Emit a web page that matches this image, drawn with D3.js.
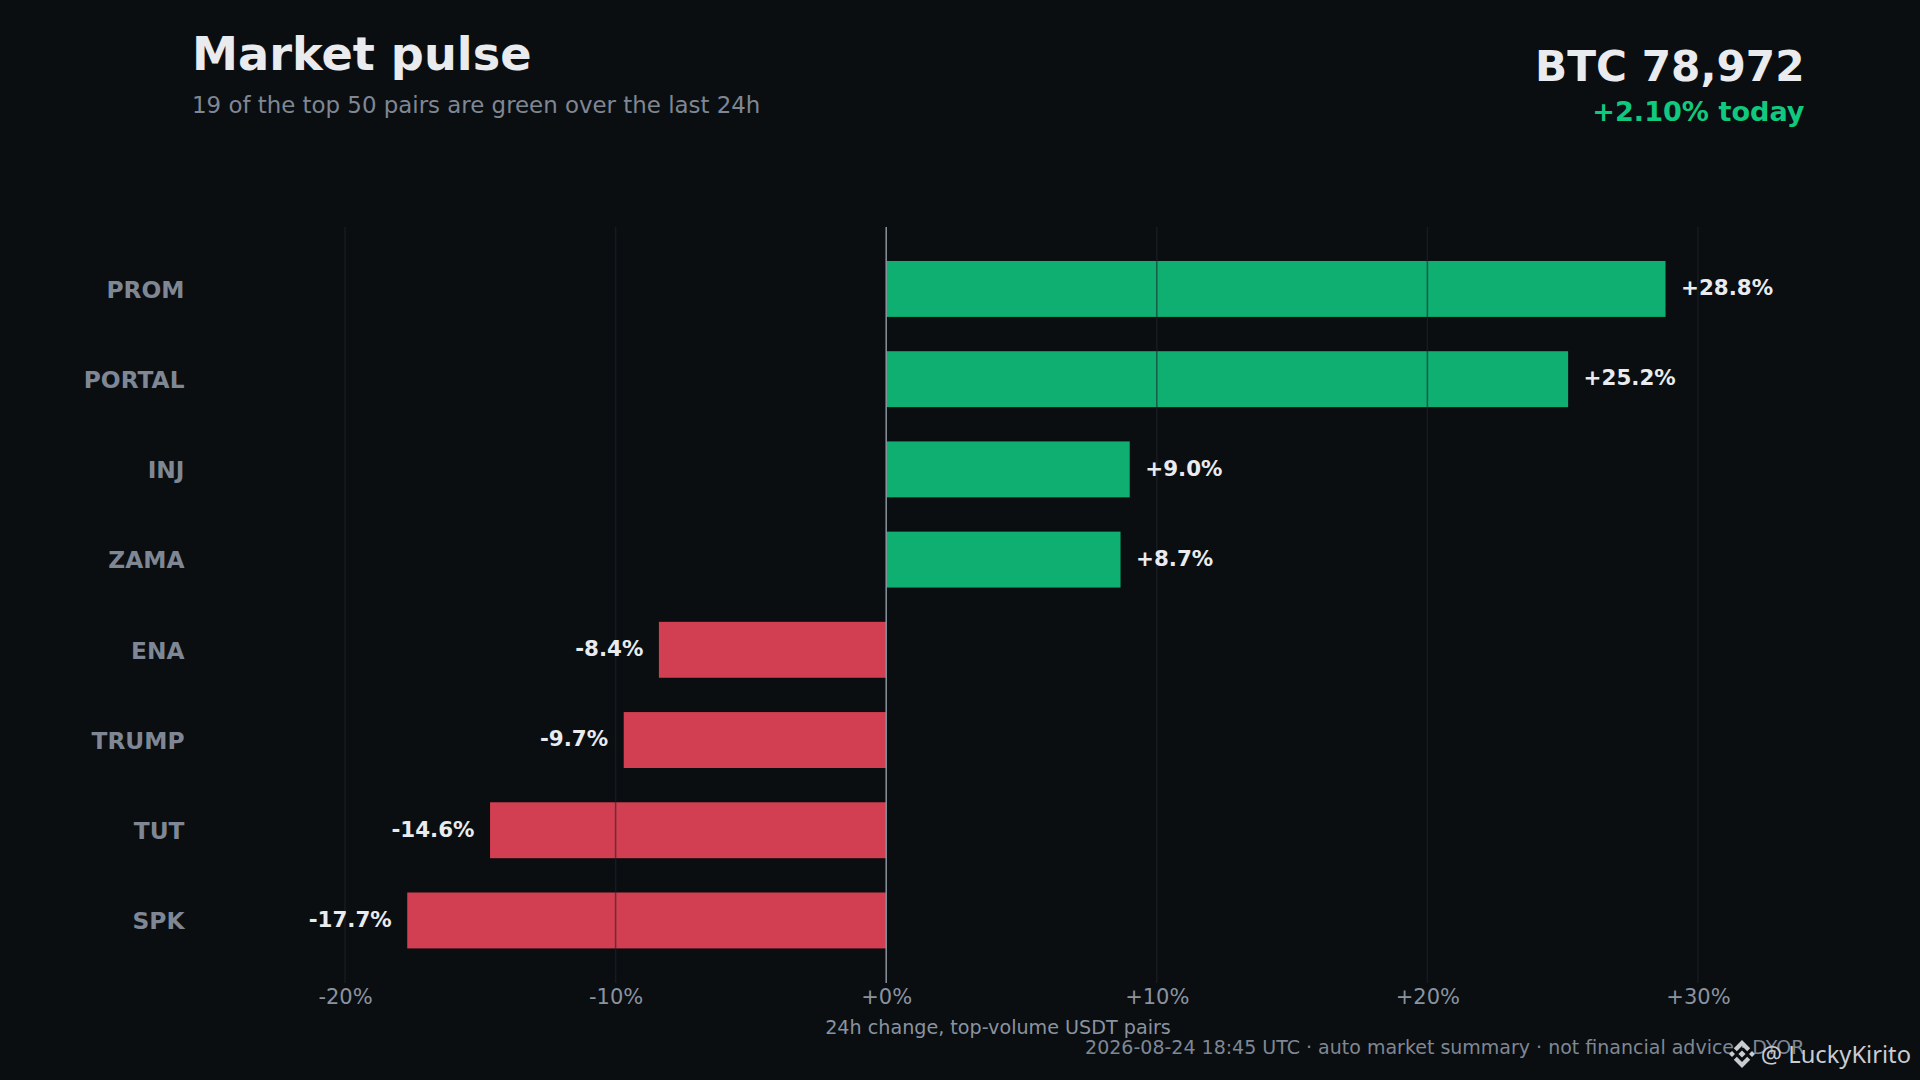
<!DOCTYPE html>
<html>
<head>
<meta charset="utf-8">
<script src="https://cdn.jsdelivr.net/npm/d3@7"></script>
<style>
  html, body { margin: 0; padding: 0; background: #0a0e11; }
  svg { display: block; font-family: "DejaVu Sans", sans-serif; }
</style>
</head>
<body>
<div id="chart"></div>
<script>
const symbols = ['PROM', 'PORTAL', 'INJ', 'ZAMA', 'ENA', 'TRUMP', 'TUT', 'SPK'];
const changes = [28.8, 25.2, 9.0, 8.66, -8.4, -9.7, -14.64, -17.7];
const tickValues = [-20, -10, 0, 10, 20, 30];

const width = 1920;
const height = 1080;

const svg = d3.select('#chart').append('svg')
    .attr('width', width)
    .attr('height', height);

svg.append('rect')
    .attr('width', width)
    .attr('height', height)
    .attr('fill', '#0a0e11');

const xScale = d3.scaleLinear().domain([-20, 30]).range([345, 1698]);
const yScale = d3.scaleBand().domain(symbols).range([227, 983]).padding(0.38);

// bars
svg.selectAll('.bar')
    .data(changes)
    .enter()
    .append('rect')
        .attr('class', 'bar')
        .attr('x', (d) => Math.min(xScale(0), xScale(d)))
        .attr('y', (d, i) => yScale(symbols[i]) - 0.3)
        .attr('width', (d) => Math.abs(xScale(d) - xScale(0)))
        .attr('height', yScale.bandwidth())
        .attr('fill', (d) => d >= 0 ? '#0fae71' : '#d23f52');

// grid sits over the bars
svg.selectAll('.grid')
    .data(tickValues.filter((d) => d !== 0))
    .enter()
    .append('line')
        .attr('class', 'grid')
        .attr('x1', (d) => xScale(d))
        .attr('x2', (d) => xScale(d))
        .attr('y1', 227)
        .attr('y2', 983)
        .attr('stroke', '#20252c')
        .attr('stroke-opacity', 0.6)
        .attr('stroke-width', 1.5);

svg.append('line')
    .attr('x1', xScale(0))
    .attr('x2', xScale(0))
    .attr('y1', 227)
    .attr('y2', 983)
    .attr('stroke', '#8b93a0')
    .attr('stroke-width', 1.5);

// x axis
const xAxis = svg.append('g')
    .attr('transform', 'translate(0, 983)')
    .call(d3.axisBottom(xScale)
        .tickValues(tickValues)
        .tickSize(0)
        .tickPadding(6)
        .tickFormat((d) => (d >= 0 ? '+' : '') + d + '%'));
xAxis.select('.domain').remove();
xAxis.selectAll('text')
    .attr('font-family', '"DejaVu Sans", sans-serif')
    .attr('font-size', 21)
    .attr('fill', '#8b93a0');

// symbol labels
svg.selectAll('.symbol')
    .data(symbols)
    .enter()
    .append('text')
        .attr('class', 'symbol')
        .attr('x', 184.5)
        .attr('y', (d) => yScale(d) + yScale.bandwidth() / 2 + 8.5)
        .attr('text-anchor', 'end')
        .attr('font-size', 23.3)
        .attr('font-weight', 'bold')
        .attr('fill', '#7f8794')
        .text((d) => d);

// value labels
svg.selectAll('.value')
    .data(changes)
    .enter()
    .append('text')
        .attr('class', 'value')
        .attr('x', (d) => xScale(d) + (d >= 0 ? 15.5 : -15.5))
        .attr('y', (d, i) => yScale(symbols[i]) + yScale.bandwidth() / 2 + 6)
        .attr('text-anchor', (d) => d >= 0 ? 'start' : 'end')
        .attr('font-size', 21.4)
        .attr('font-weight', 'bold')
        .attr('fill', '#e9ebef')
        .text((d) => (d >= 0 ? '+' : '') + d.toFixed(1) + '%');

// header
svg.append('text').attr('x', 192).attr('y', 70)
    .attr('font-size', 46.2).attr('font-weight', 'bold').attr('fill', '#e9ebef')
    .text('Market pulse');
svg.append('text').attr('x', 192).attr('y', 113)
    .attr('font-size', 22.9).attr('fill', '#7f8794')
    .text('19 of the top 50 pairs are green over the last 24h');
svg.append('text').attr('x', 1804.5).attr('y', 81)
    .attr('text-anchor', 'end')
    .attr('font-size', 42.2).attr('font-weight', 'bold').attr('fill', '#e9ebef')
    .text('BTC 78,972');
svg.append('text').attr('x', 1804.5).attr('y', 121)
    .attr('text-anchor', 'end')
    .attr('font-size', 27.1).attr('font-weight', 'bold').attr('fill', '#10c97f')
    .text('+2.10% today');

// footer
svg.append('text').attr('x', 998).attr('y', 1034)
    .attr('text-anchor', 'middle')
    .attr('font-size', 19.15).attr('fill', '#8b93a0')
    .text('24h change, top-volume USDT pairs');
svg.append('text').attr('x', 1804.5).attr('y', 1053.5)
    .attr('text-anchor', 'end')
    .attr('font-size', 19).attr('fill', '#7f8794')
    .text('2026-08-24 18:45 UTC · auto market summary · not financial advice · DYOR');

// watermark
const mark = svg.append('g')
    .attr('transform', 'translate(1742, 1054)')
    .attr('fill', '#c9ccd1');
mark.append('path')
    .attr('d', 'M0,-3.6L3.6,0L0,3.6L-3.6,0Z' +
        'M-13,0L-10,-3L-7,0L-10,3Z' +
        'M13,0L10,-3L7,0L10,3Z' +
        'M0,-14L8.2,-5.8L5.2,-2.8L0,-8L-5.2,-2.8L-8.2,-5.8Z' +
        'M0,14L8.2,5.8L5.2,2.8L0,8L-5.2,2.8L-8.2,5.8Z');
svg.append('text').attr('x', 1911).attr('y', 1063)
    .attr('text-anchor', 'end')
    .attr('font-family', '"Noto Sans", sans-serif')
    .attr('font-size', 23.7).attr('fill', '#c9ccd1')
    .text('@ LuckyKirito');
</script>
</body>
</html>
